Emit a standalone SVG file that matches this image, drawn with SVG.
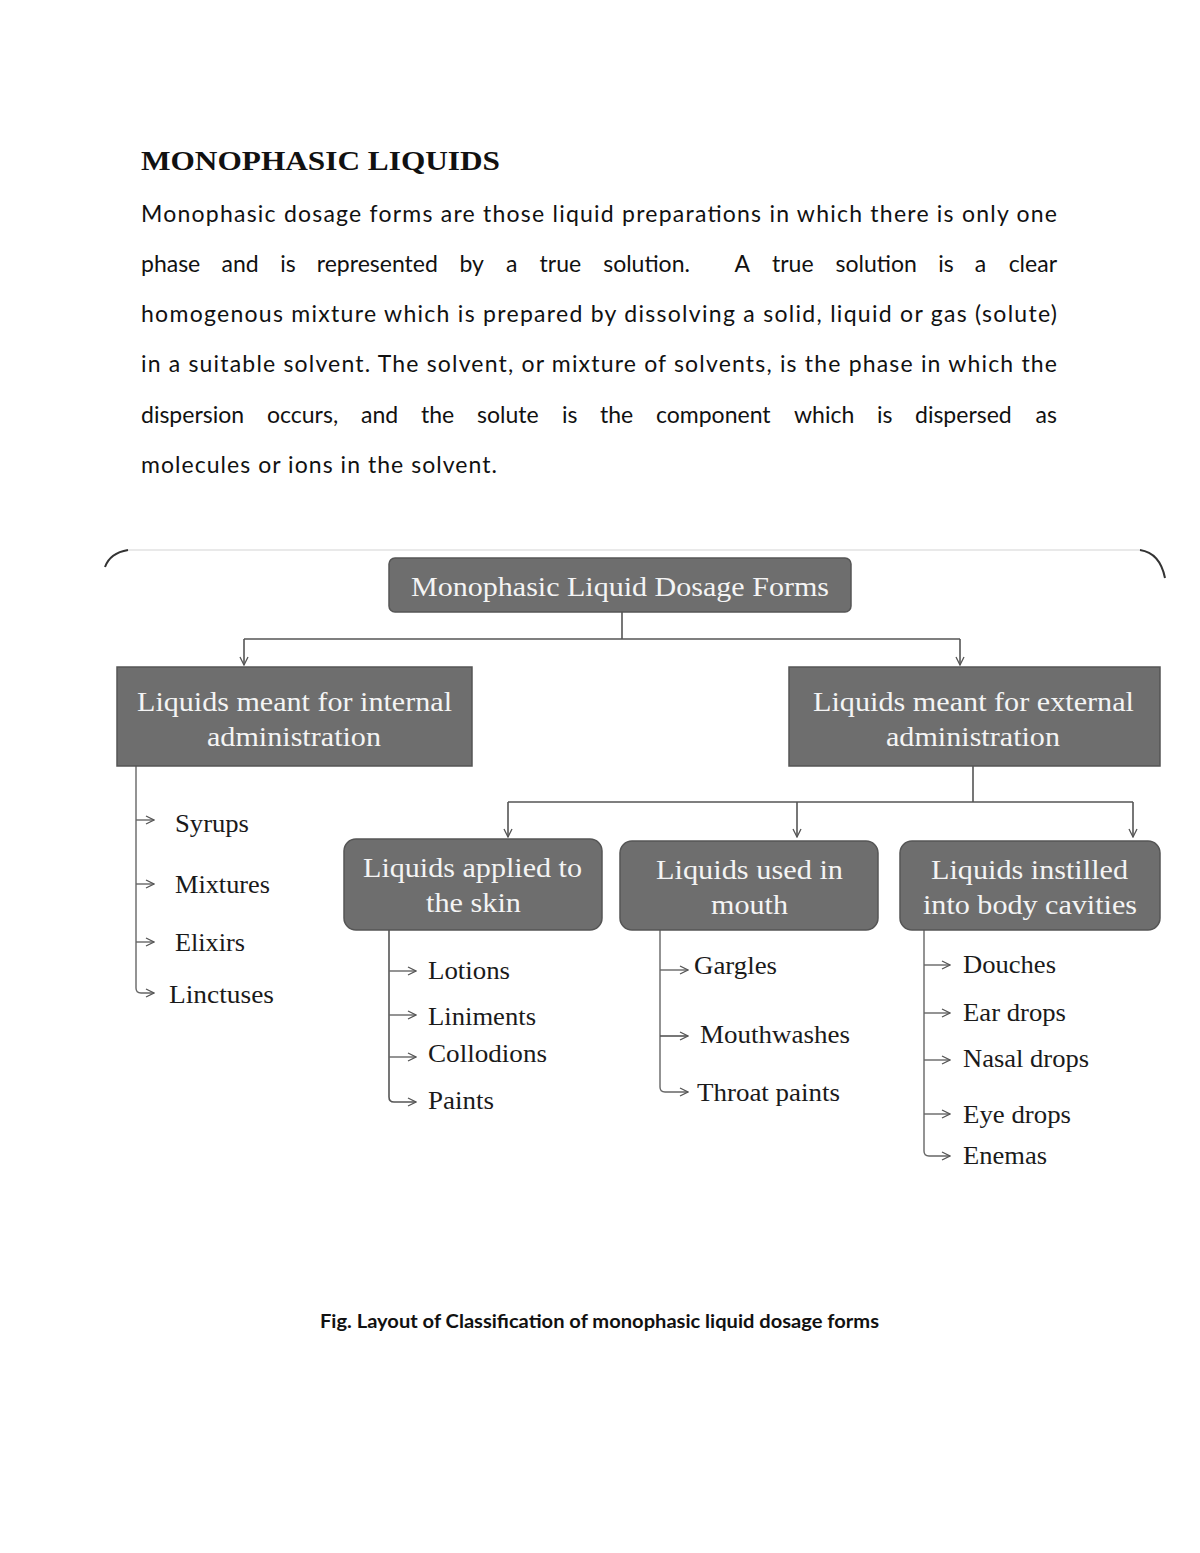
<svg xmlns="http://www.w3.org/2000/svg" width="1200" height="1553" viewBox="0 0 1200 1553">
<defs>
<style>
.body{font-family:Lato,"Liberation Sans",sans-serif;font-size:23px;fill:#111}
.title{font-family:"Liberation Serif",serif;font-size:28px;font-weight:bold;fill:#111}
.node rect{fill:#6e6e6e;stroke:#555;stroke-width:1.5}
.node text{font-family:"Liberation Serif",serif;font-size:28px;fill:#f4f4f4;text-anchor:middle}
.item{font-family:"Liberation Serif",serif;font-size:26px;fill:#1a1a1a}
.conn{fill:none;stroke:#555;stroke-width:1.6}
.arr{fill:none;stroke:#666;stroke-width:1.4}
.cap{font-family:Lato,"Liberation Sans",sans-serif;font-size:19px;font-weight:bold;fill:#111}
</style>
<marker id="v" viewBox="0 0 10 10" refX="9" refY="5" markerWidth="10" markerHeight="10" markerUnits="userSpaceOnUse" orient="auto">
<path d="M1,1 L9,5 L1,9" fill="none" stroke="#555" stroke-width="1.3"/>
</marker>
</defs>
<rect width="1200" height="1553" fill="#ffffff"/>

<g id="heading">
<text class="title" x="141" y="170" textLength="359" lengthAdjust="spacingAndGlyphs">MONOPHASIC LIQUIDS</text>
</g>
<g id="paragraph" class="body">
<text x="141" y="222" textLength="916" lengthAdjust="spacing">Monophasic dosage forms are those liquid preparations in which there is only one</text>
<text y="272"><tspan x="141">phase</tspan><tspan x="221.6">and</tspan><tspan x="280.2">is</tspan><tspan x="316.8">represented</tspan><tspan x="459.4">by</tspan><tspan x="506">a</tspan><tspan x="539.6">true</tspan><tspan x="603.2">solution.</tspan><tspan x="734.4">A</tspan><tspan x="772">true</tspan><tspan x="835.6">solution</tspan><tspan x="938.2">is</tspan><tspan x="974.8">a</tspan><tspan x="1057" text-anchor="end">clear</tspan></text>
<text x="141" y="322" textLength="916" lengthAdjust="spacing">homogenous mixture which is prepared by dissolving a solid, liquid or gas (solute)</text>
<text x="141" y="372" textLength="916" lengthAdjust="spacing">in a suitable solvent.  The solvent, or mixture of solvents, is the phase in which the</text>
<text y="423"><tspan x="141">dispersion</tspan><tspan x="267">occurs,</tspan><tspan x="361">and</tspan><tspan x="421">the</tspan><tspan x="477">solute</tspan><tspan x="562">is</tspan><tspan x="600">the</tspan><tspan x="656">component</tspan><tspan x="794">which</tspan><tspan x="877">is</tspan><tspan x="915">dispersed</tspan><tspan x="1057" text-anchor="end">as</tspan></text>
<text x="141" y="473" textLength="356" lengthAdjust="spacing">molecules or ions in the solvent.</text>
</g>

<g id="frame" fill="none">
<path d="M128,550 L1140,550" stroke="#e2e2e2" stroke-width="1.5"/>
<path d="M105,567 Q110,553 128,550" stroke="#333" stroke-width="2"/>
<path d="M1140,550 Q1160,553 1165,578" stroke="#333" stroke-width="2"/>
</g>

<g id="connectors">
<path class="conn" d="M622,612 V639 M244,639 H960"/>
<path class="conn" d="M244,639 V665" marker-end="url(#v)"/>
<path class="conn" d="M960,639 V665" marker-end="url(#v)"/>
<path class="conn" d="M973,766 V802 M508,802 H1133"/>
<path class="conn" d="M508,802 V837" marker-end="url(#v)"/>
<path class="conn" d="M797,802 V837" marker-end="url(#v)"/>
<path class="conn" d="M1133,802 V837" marker-end="url(#v)"/>
<path class="arr" d="M136,766 V988 Q136,993 141,993 H154" marker-end="url(#v)"/>
<path class="arr" d="M136,820 H154" marker-end="url(#v)"/>
<path class="arr" d="M136,884 H154" marker-end="url(#v)"/>
<path class="arr" d="M136,942 H154" marker-end="url(#v)"/>
<path class="conn" d="M389,930 V1097 Q389,1102 394,1102 H416" marker-end="url(#v)"/>
<path class="arr" d="M389,971 H416" marker-end="url(#v)"/>
<path class="arr" d="M389,1015 H416" marker-end="url(#v)"/>
<path class="arr" d="M389,1057 H416" marker-end="url(#v)"/>
<path class="arr" d="M660,930 V1087 Q660,1092 665,1092 H688" marker-end="url(#v)"/>
<path class="arr" d="M660,970 H688" marker-end="url(#v)"/>
<path class="conn" d="M660,1036 H688" marker-end="url(#v)"/>
<path class="arr" d="M924,930 V1151 Q924,1156 929,1156 H950" marker-end="url(#v)"/>
<path class="arr" d="M924,965 H950" marker-end="url(#v)"/>
<path class="arr" d="M924,1013 H950" marker-end="url(#v)"/>
<path class="arr" d="M924,1060 H950" marker-end="url(#v)"/>
<path class="arr" d="M924,1114 H950" marker-end="url(#v)"/>
</g>

<g id="node-root" class="node">
<rect x="389" y="558" width="462" height="54" rx="6"/>
<text x="620" y="596" textLength="418" lengthAdjust="spacingAndGlyphs">Monophasic Liquid Dosage Forms</text>
</g>
<g id="node-internal" class="node">
<rect x="117" y="667" width="355" height="99"/>
<text x="294.5" y="711" textLength="315" lengthAdjust="spacingAndGlyphs">Liquids meant for internal</text>
<text x="294" y="746" textLength="174" lengthAdjust="spacingAndGlyphs">administration</text>
</g>
<g id="node-external" class="node">
<rect x="789" y="667" width="371" height="99"/>
<text x="973.5" y="711" textLength="321" lengthAdjust="spacingAndGlyphs">Liquids meant for external</text>
<text x="973" y="746" textLength="174" lengthAdjust="spacingAndGlyphs">administration</text>
</g>
<g id="node-skin" class="node">
<rect x="344" y="839" width="258" height="91" rx="12"/>
<text x="472.5" y="877" textLength="219" lengthAdjust="spacingAndGlyphs">Liquids applied to</text>
<text x="473.5" y="912" textLength="95" lengthAdjust="spacingAndGlyphs">the skin</text>
</g>
<g id="node-mouth" class="node">
<rect x="620" y="841" width="258" height="89" rx="12"/>
<text x="749.5" y="879" textLength="187" lengthAdjust="spacingAndGlyphs">Liquids used in</text>
<text x="749.5" y="914" textLength="77" lengthAdjust="spacingAndGlyphs">mouth</text>
</g>
<g id="node-cavities" class="node">
<rect x="900" y="841" width="260" height="89" rx="12"/>
<text x="1029.5" y="879" textLength="197" lengthAdjust="spacingAndGlyphs">Liquids instilled</text>
<text x="1030" y="914" textLength="214" lengthAdjust="spacingAndGlyphs">into body cavities</text>
</g>

<g id="list-internal" class="item">
<text x="175" y="832" textLength="74" lengthAdjust="spacingAndGlyphs">Syrups</text>
<text x="175" y="893" textLength="95" lengthAdjust="spacingAndGlyphs">Mixtures</text>
<text x="175" y="951" textLength="70" lengthAdjust="spacingAndGlyphs">Elixirs</text>
<text x="169" y="1003" textLength="105" lengthAdjust="spacingAndGlyphs">Linctuses</text>
</g>
<g id="list-skin" class="item">
<text x="428" y="979" textLength="82" lengthAdjust="spacingAndGlyphs">Lotions</text>
<text x="428" y="1025" textLength="108" lengthAdjust="spacingAndGlyphs">Liniments</text>
<text x="428" y="1062" textLength="119" lengthAdjust="spacingAndGlyphs">Collodions</text>
<text x="428" y="1109" textLength="66" lengthAdjust="spacingAndGlyphs">Paints</text>
</g>
<g id="list-mouth" class="item">
<text x="694" y="974" textLength="83" lengthAdjust="spacingAndGlyphs">Gargles</text>
<text x="700" y="1043" textLength="150" lengthAdjust="spacingAndGlyphs">Mouthwashes</text>
<text x="697" y="1101" textLength="143" lengthAdjust="spacingAndGlyphs">Throat paints</text>
</g>
<g id="list-cavities" class="item">
<text x="963" y="973" textLength="93" lengthAdjust="spacingAndGlyphs">Douches</text>
<text x="963" y="1021" textLength="103" lengthAdjust="spacingAndGlyphs">Ear drops</text>
<text x="963" y="1067" textLength="126" lengthAdjust="spacingAndGlyphs">Nasal drops</text>
<text x="963" y="1123" textLength="108" lengthAdjust="spacingAndGlyphs">Eye drops</text>
<text x="963" y="1164" textLength="84" lengthAdjust="spacingAndGlyphs">Enemas</text>
</g>

<g id="caption">
<text class="cap" x="320" y="1328" textLength="559" lengthAdjust="spacingAndGlyphs">Fig. Layout of Classification of monophasic liquid dosage forms</text>
</g>
</svg>
